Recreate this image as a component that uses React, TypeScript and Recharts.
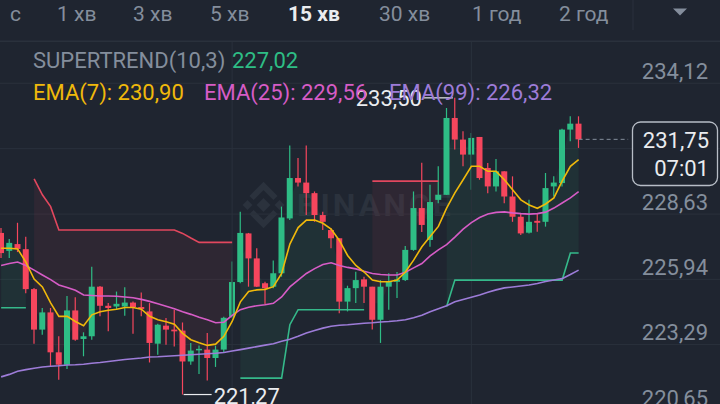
import {
  ComposedChart,
  Bar,
  Line,
  Area,
  XAxis,
  YAxis,
  CartesianGrid,
  ReferenceLine,
  ReferenceDot,
} from 'recharts';

const BG = '#1f2530';
const GRID = '#2a313c';
const AXIS_TXT = '#848e9c';
const UP = '#2ebd85';
const DOWN = '#f6465d';
const ST_UP = '#35b98a';
const ST_DOWN = '#e2475e';
const EMA7_C = '#f0b90b';
const EMA25_C = '#d65cc6';
const EMA99_C = '#9d7cd8';
const FONT = 'Roboto, "Noto Sans", sans-serif';

// 15 min candles, oldest first
const opens = [
  227.85, 227.11, 227.39, 227.18, 225.54, 223.89, 224.59, 222.97, 222.47, 224.67,
  223.51, 223.62, 225.64, 224.86, 224.83, 224.83, 224.99, 224.81, 224.63, 223.32,
  224.05, 223.89, 223.85, 222.6, 223.05, 223.08, 222.74, 223.08, 224.41, 225.83,
  227.83, 226.8, 225.78, 225.64, 226.19, 228.45, 230.13, 229.94, 229.5, 228.59,
  227.97, 227.63, 225.03, 225.58, 225.94, 225.64, 224.29, 225.64, 225.84, 225.91,
  227.15, 228.88, 227.56, 229.22, 229.43, 232.65, 231.74, 231.11, 231.85, 230.55,
  229.78, 230.41, 229.36, 228.52, 227.86, 228.35, 228.31, 229.78, 229.92, 232.16,
  232.41,
];
const highs = [
  228.05, 227.6, 228.27, 227.69, 225.59, 224.77, 224.77, 223.62, 225.26, 225.21,
  223.78, 226.46, 225.67, 224.97, 225.44, 225.62, 225.03, 225.4, 224.97, 224.13,
  224.36, 224.7, 224.18, 223.35, 223.25, 223.75, 223.24, 224.41, 226.67, 228.73,
  227.85, 227.22, 225.84, 226.71, 228.94, 231.49, 230.97, 231.49, 229.57, 228.73,
  228.04, 227.63, 225.68, 226.25, 226.05, 225.64, 225.91, 226.19, 226.24, 227.31,
  229.57, 230.77, 229.85, 230.62, 233.07, 233.5, 232.09, 232.02, 231.85, 230.76,
  230.93, 230.41, 230.2, 228.66, 229.22, 228.66, 230.34, 230.2, 232.2, 232.72,
  232.72,
];
const lows = [
  226.82, 226.82, 227.06, 225.37, 223.32, 223.68, 222.4, 221.86, 222.3, 223.44,
  222.81, 223.48, 224.43, 223.82, 224.7, 224.45, 223.72, 224.43, 222.56, 222.87,
  223.28, 223.21, 221.27, 222.47, 222.1, 221.83, 222.38, 222.97, 224.36, 225.78,
  225.64, 225.63, 224.9, 225.58, 226.05, 228.38, 229.78, 228.59, 228.31, 227.97,
  227.22, 224.56, 224.63, 224.97, 224.97, 223.89, 223.35, 224.7, 225.18, 225.87,
  227.11, 227.89, 227.28, 229.08, 229.43, 231.32, 230.62, 229.64, 230.06, 229.5,
  229.57, 229.08, 228.31, 227.76, 227.83, 227.9, 228.11, 229.36, 229.78, 231.67,
  231.39,
];
const closes = [
  227.02, 227.44, 227.19, 225.54, 223.89, 224.59, 222.97, 222.47, 224.67, 223.48,
  223.62, 225.64, 224.86, 224.77, 224.94, 224.99, 224.81, 224.73, 223.35, 224.09,
  223.89, 223.82, 222.6, 223.04, 223.11, 222.74, 223.08, 224.37, 225.83, 227.85,
  226.8, 225.64, 225.58, 226.19, 228.49, 230.13, 229.94, 229.5, 228.59, 228.31,
  227.63, 225.03, 225.58, 225.91, 225.64, 224.29, 225.64, 225.84, 225.93, 227.15,
  228.88, 228.18, 229.13, 229.43, 232.65, 231.74, 231.11, 231.81, 230.13, 229.78,
  230.41, 229.36, 228.52, 227.83, 228.31, 228.27, 229.71, 229.94, 232.16, 232.41,
  231.75,
];

const ema7 = [
  227.22, 227.22, 227.19, 226.65, 225.95, 225.63, 224.98, 224.43, 224.43, 224.22,
  224.05, 224.49, 224.62, 224.68, 224.72, 224.79, 224.79, 224.72, 224.43, 224.29,
  224.21, 224.11, 223.74, 223.48, 223.36, 223.25, 223.3, 223.62, 224.22, 225.02,
  225.44, 225.51, 225.53, 225.64, 226.18, 227.39, 228.07, 228.38, 228.38, 228.25,
  228.01, 227.54, 226.92, 226.51, 226.24, 225.91, 225.84, 225.84, 225.91, 226.24,
  226.73, 227.28, 227.7, 228.12, 228.88, 229.51, 230.06, 230.62, 230.62, 230.41,
  230.41, 230.06, 229.64, 229.22, 229.01, 228.87, 229.05, 229.3, 230.0, 230.62,
  230.9,
];
const ema25 = [
  226.51, 226.59, 226.65, 226.51, 226.32, 226.12, 225.93, 225.71, 225.61, 225.49,
  225.3, 225.28, 225.26, 225.26, 225.25, 225.22, 225.19, 225.12, 225.04, 224.94,
  224.84, 224.74, 224.62, 224.51, 224.39, 224.29, 224.17, 224.19, 224.47, 224.7,
  224.8, 224.86, 224.9, 224.96, 225.22, 225.63, 225.91, 226.18, 226.38, 226.55,
  226.62, 226.51, 226.43, 226.37, 226.27, 226.18, 226.14, 226.12, 226.12, 226.23,
  226.41, 226.59, 226.9, 227.15, 227.37, 227.68, 228.01, 228.28, 228.49, 228.63,
  228.7, 228.72, 228.68, 228.65, 228.63, 228.65, 228.71, 228.88, 229.09, 229.3,
  229.56,
];
const ema99 = [
  221.98, 222.08, 222.21, 222.27, 222.33, 222.38, 222.41, 222.43, 222.46, 222.47,
  222.49, 222.53, 222.56, 222.6, 222.64, 222.68, 222.71, 222.74, 222.78, 222.79,
  222.81, 222.83, 222.85, 222.87, 222.89, 222.91, 222.93, 222.96, 223.02, 223.08,
  223.14, 223.2, 223.26, 223.32, 223.42, 223.5, 223.62, 223.75, 223.85, 223.95,
  224.03, 224.07, 224.09, 224.12, 224.15, 224.17, 224.2, 224.22, 224.25, 224.29,
  224.37, 224.47, 224.62, 224.74, 224.86, 225.02, 225.12, 225.21, 225.3, 225.41,
  225.51, 225.59, 225.63, 225.67, 225.71, 225.77, 225.85, 225.91, 225.97, 226.14,
  226.32,
];

const N = null;
// SuperTrend(10,3): lower band while trend is up, upper band while down
const stUp = [
  224.78, 224.78, 224.78, 224.78, N, N, N, N, N, N,
  N, N, N, N, N, N, N, N, N, N,
  N, N, N, N, N, N, N, N, N, 221.93,
  221.93, 221.93, 221.93, 221.93, 221.93, 224.09, 224.7, 224.7, 224.7, 224.7,
  224.7, 224.7, 224.7, 224.7, 224.7, N, N, N, N, N,
  N, N, N, N, 224.83, 225.91, 225.91, 225.91, 225.91, 225.91,
  225.91, 225.91, 225.91, 225.91, 225.91, 225.91, 225.91, 225.91, 225.91, 227.02,
  227.02,
];
const stDown = [
  N, N, N, N, 230.09, 229.43, 228.94, 227.97, 227.97, 227.97,
  227.97, 227.97, 227.97, 227.97, 227.97, 227.97, 227.97, 227.97, 227.97, 227.97,
  227.97, 227.97, 227.83, 227.64, 227.46, 227.46, 227.46, 227.46, 227.46, N,
  N, N, N, N, N, N, N, N, N, N,
  N, N, N, N, N, 230.0, 230.0, 230.0, 230.0, 230.0,
  230.0, 230.0, 230.0, 230.0, N, N, N, N, N, N,
  N, N, N, N, N, N, N, N, N, N,
  N,
];

const priceTicks = [220.65, 223.29, 225.94, 228.63, 231.36, 234.12];
const tabs = ['с', '1 хв', '3 хв', '5 хв', '15 хв', '30 хв', '1 год', '2 год'];
const tabX = [10, 57, 133, 210, 288, 379, 472, 559];
const ACTIVE_TAB = '15 хв';
const SLOTS = 88; // candles + empty space up to the price scale

const fmt = (v: number) => v.toFixed(2).replace('.', ',');

const rows: any[] = [];
for (let i = 0; i < SLOTS; i++) {
  if (i < opens.length) {
    rows.push({
      i,
      o: opens[i],
      h: highs[i],
      l: lows[i],
      c: closes[i],
      range: [lows[i], highs[i]],
      mid: (opens[i] + closes[i]) / 2,
      ema7: ema7[i],
      ema25: ema25[i],
      ema99: ema99[i],
      stUp: stUp[i],
      stDown: stDown[i],
    });
  } else {
    rows.push({ i });
  }
}

const Candle = (props: any) => {
  const { x, y, width, height, payload } = props;
  if (!payload || payload.o == null) return null;
  const { o, h, l, c } = payload;
  const top = Math.min(y, y + height);
  const hh = Math.abs(height);
  const span = Math.log(h) - Math.log(l);
  // position inside the high-low bar on the log price scale
  const py = (v: number) => (span > 0 ? top + (hh * (Math.log(h) - Math.log(v))) / span : top);
  const color = c >= o ? UP : DOWN;
  const cx = x + width / 2;
  const b1 = py(Math.max(o, c));
  const b2 = py(Math.min(o, c));
  return (
    <g>
      <line x1={cx} x2={cx} y1={top} y2={top + hh} stroke={color} strokeWidth={1.2} />
      <rect x={x} y={b1} width={width} height={Math.max(1.2, b2 - b1)} fill={color} />
    </g>
  );
};

const renderPriceTick = (p: any) => (
  <text
    key={p.payload.value}
    x={711}
    y={p.y - 4}
    textAnchor="end"
    fill={AXIS_TXT}
    fontSize={22}
    fontFamily={FONT}
  >
    {fmt(p.payload.value)}
  </text>
);

const HighLabel = (p: any) => {
  const { x, y } = p.viewBox;
  return (
    <g>
      <line x1={x - 2} x2={x - 31} y1={y} y2={y} stroke="#eaecef" strokeWidth={1.2} />
      <text x={x - 33} y={y + 8.5} textAnchor="end" fill="#eaecef" fontSize={22} fontFamily={FONT}>
        {fmt(233.5)}
      </text>
    </g>
  );
};

const LowLabel = (p: any) => {
  const { x, y } = p.viewBox;
  return (
    <g>
      <line x1={x + 1} x2={x + 29} y1={y} y2={y} stroke="#eaecef" strokeWidth={1.2} />
      <text x={x + 31} y={y + 9} fill="#eaecef" fontSize={22} fontFamily={FONT}>
        {fmt(221.27)}
      </text>
    </g>
  );
};

function Watermark() {
  const cx = 263.5;
  const cy = 205;
  const col = '#2b323d';
  const dia = (x: number, y: number, r: number) =>
    `M${x},${y - r} L${x + r},${y} L${x},${y + r} L${x - r},${y} Z`;
  return (
    <svg width={720} height={404} style={{ position: 'absolute', left: 0, top: 0 }}>
      <path d={dia(cx, cy, 7)} fill={col} />
      <path d={dia(cx - 16, cy, 5)} fill={col} />
      <path d={dia(cx + 16, cy, 5)} fill={col} />
      <path
        d={`M${cx - 12},${cy - 7} L${cx},${cy - 19} L${cx + 12},${cy - 7}`}
        stroke={col}
        strokeWidth={6}
        fill="none"
      />
      <path
        d={`M${cx - 12},${cy + 7} L${cx},${cy + 19} L${cx + 12},${cy + 7}`}
        stroke={col}
        strokeWidth={6}
        fill="none"
      />
      <text x={297} y={216} fill={col} fontSize={32} fontWeight={700} letterSpacing={3} fontFamily={FONT}>
        BINANCE
      </text>
    </svg>
  );
}

function Overlay() {
  return (
    <svg width={720} height={404} style={{ position: 'absolute', left: 0, top: 0 }}>
      {/* interval tabs */}
      {tabs.map((t, k) => (
        <text
          key={t}
          x={tabX[k]}
          y={21}
          fontSize={21}
          fontFamily={FONT}
          fontWeight={t === ACTIVE_TAB ? 700 : 400}
          fill={t === ACTIVE_TAB ? '#eaecef' : AXIS_TXT}
        >
          {t}
        </text>
      ))}
      <line x1={633} x2={633} y1={0} y2={30} stroke={GRID} strokeWidth={1} />
      <path d="M673,8.5 L687,8.5 L680,15.5 Z" fill={AXIS_TXT} />
      <line x1={0} x2={720} y1={41.5} y2={41.5} stroke={GRID} strokeWidth={1} />

      {/* indicator legend */}
      <g fontSize={22} fontFamily={FONT}>
        <text x={33} y={68} fill={AXIS_TXT}>SUPERTREND(10,3)</text>
        <text x={232} y={68} fill={UP}>{fmt(stUp[stUp.length - 1] as number)}</text>
        <text x={33} y={100} fill={EMA7_C}>EMA(7): {fmt(ema7[ema7.length - 1])}</text>
        <text x={204} y={100} fill={EMA25_C}>EMA(25): {fmt(ema25[ema25.length - 1])}</text>
        <text x={389} y={100} fill={EMA99_C}>EMA(99): {fmt(ema99[ema99.length - 1])}</text>
      </g>

      {/* last price box */}
      <rect x={632.5} y={122} width={85} height={63.5} rx={8} fill={BG} stroke="#b7bdc6" strokeWidth={1.3} />
      <text x={709} y={147.5} textAnchor="end" fill="#eaecef" fontSize={22} fontFamily={FONT}>
        {fmt(closes[closes.length - 1])}
      </text>
      <text x={709} y={176} textAnchor="end" fill="#eaecef" fontSize={22} fontFamily={FONT}>
        07:01
      </text>
    </svg>
  );
}

export default function App() {
  const last = opens.length - 1;
  return (
    <div
      style={{
        position: 'absolute',
        left: 0,
        top: 0,
        width: 720,
        height: 404,
        overflow: 'hidden',
        background: BG,
      }}
    >
      <Watermark />
      <div style={{ position: 'absolute', left: -3.3, top: 0 }}>
        <ComposedChart width={726} height={410} data={rows} margin={{ top: 41, right: 0, bottom: 0, left: 0 }}>
          <CartesianGrid stroke={GRID} vertical={false} />
          <XAxis dataKey="i" type="category" hide />
          <YAxis
            orientation="right"
            mirror
            width={80}
            scale="log"
            domain={[220.65, 235.92]}
            allowDataOverflow
            ticks={priceTicks}
            interval={0}
            axisLine={false}
            tickLine={false}
            tick={renderPriceTick}
          />
          <ReferenceLine x={28} stroke={GRID} />
          <ReferenceLine x={57} stroke={GRID} />

          {/* SuperTrend fills between band and candle body middle */}
          <Area
            dataKey={(d: any) => (d.stUp != null ? [d.stUp, d.mid] : null)}
            stroke="none"
            fill="rgba(46,189,133,0.13)"
            isAnimationActive={false}
          />
          <Area
            dataKey={(d: any) => (d.stDown != null ? [d.stDown, d.mid] : null)}
            stroke="none"
            fill="rgba(246,70,93,0.12)"
            isAnimationActive={false}
          />
          <Line dataKey="stUp" stroke={ST_UP} strokeWidth={1.6} dot={false} isAnimationActive={false} />
          <Line dataKey="stDown" stroke={ST_DOWN} strokeWidth={1.6} dot={false} isAnimationActive={false} />

          <ReferenceLine
            segment={[
              { x: last, y: closes[last] },
              { x: 76, y: closes[last] },
            ]}
            stroke={AXIS_TXT}
            strokeDasharray="4 3"
          />

          <Bar dataKey="range" barSize={6} shape={<Candle />} isAnimationActive={false} />

          <Line dataKey="ema99" stroke={EMA99_C} strokeWidth={1.6} dot={false} isAnimationActive={false} />
          <Line dataKey="ema25" stroke={EMA25_C} strokeWidth={1.6} dot={false} isAnimationActive={false} />
          <Line dataKey="ema7" stroke={EMA7_C} strokeWidth={1.6} dot={false} isAnimationActive={false} />

          <ReferenceDot x={55} y={233.5} r={0} stroke="none" label={HighLabel} />
          <ReferenceDot x={22} y={221.27} r={0} stroke="none" label={LowLabel} />
        </ComposedChart>
      </div>
      <Overlay />
    </div>
  );
}
